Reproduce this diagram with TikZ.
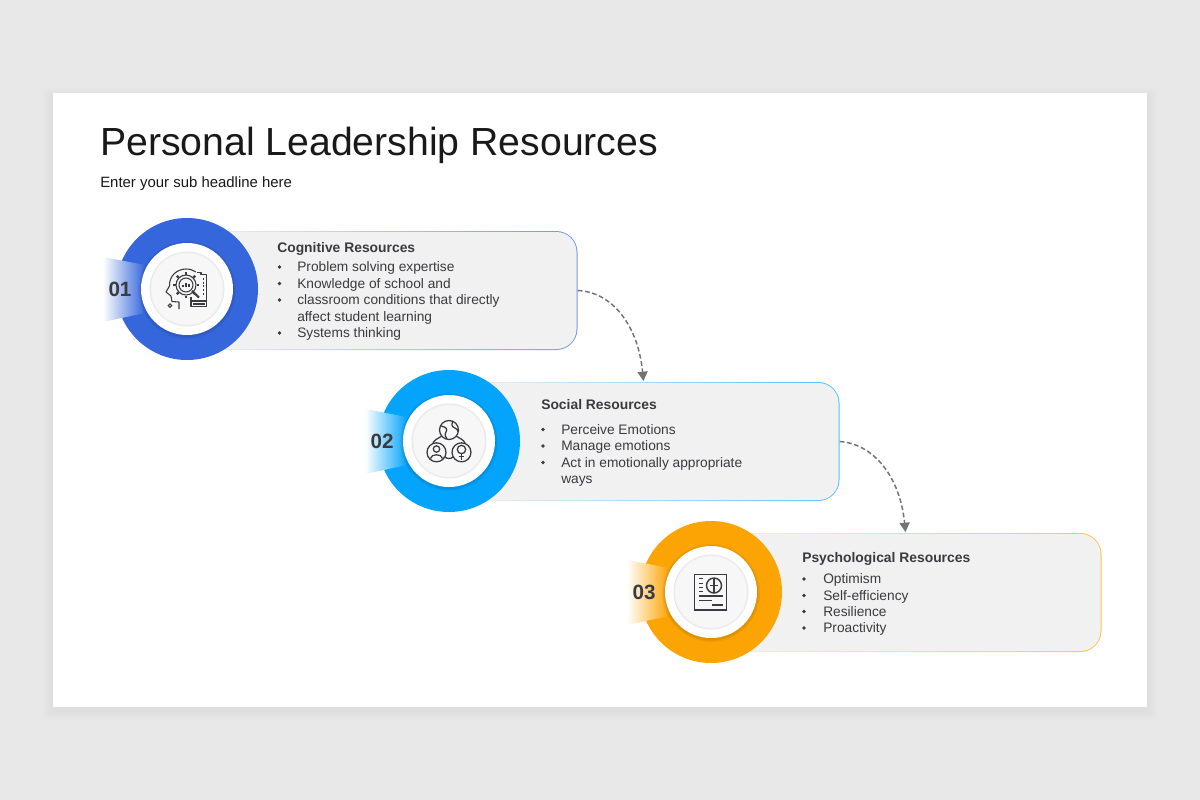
\documentclass[tikz,border=0pt]{standalone}
\usepackage{fontspec}
\setmainfont{Liberation Sans}
\usetikzlibrary{arrows.meta, calc, positioning}
\definecolor{pagegray}{HTML}{E9E8E9}
\definecolor{cardgray}{HTML}{F1F1F1}
\definecolor{inkdark}{HTML}{3A3A40}
\definecolor{blueone}{HTML}{3566DC}
\definecolor{bluetwo}{HTML}{04A4FC}
\definecolor{orangethree}{HTML}{FCA404}
\tikzset{
  headline/.style={anchor=base west, inner sep=0pt, text=black!90, font=\fontsize{29.4}{30}\selectfont},
  subline/.style={anchor=base west, inner sep=0pt, text=black!90, font=\fontsize{11.2}{12}\selectfont},
  cardhead/.style={anchor=base west, inner sep=0pt, text=inkdark, font=\fontsize{10.4}{12}\selectfont\bfseries},
  itemtext/.style={anchor=base west, inner sep=0pt, text=inkdark, font=\fontsize{10.3}{12}\selectfont},
  numtext/.style={inner sep=0pt, text=inkdark, font=\fontsize{15.5}{16}\selectfont\bfseries},
  cardedge/.style={inner sep=0pt, rounded corners=16pt, minimum height=89.25pt, left color=cardgray, middle color=cardgray, right color=#1!70!white},
  cardbody/.style={inner sep=0pt, rounded corners=15pt, minimum height=87.75pt, fill=cardgray},
  flow/.style={draw=black!55, line width=1.1pt, dash pattern=on 3.5pt off 2pt, -{Triangle[length=7pt,width=7.5pt]}},
  icon/.style={draw=inkdark, line width=0.8pt}
}
% ring, number tab and white disc of one step: centre, colour, number
\newcommand{\stepcircle}[3]{
  \fill[#2] (#1) circle (71);
  \shade[left color=white, middle color=#2!35!white, right color=#2] ($(#1)+(-84,-32)$) -- ($(#1)+(-42,-24)$) -- ($(#1)+(-42,24)$) -- ($(#1)+(-84,33)$) -- cycle;
  \foreach \r in {49,48,47} \fill[black, opacity=0.04] ($(#1)+(0,1)$) circle (\r);
  \fill[white] (#1) circle (46);
  \fill[black!9] (#1) circle (37.5);
  \fill[black!5] (#1) circle (36.5);
  \fill[white!97!black] (#1) circle (35.5);
  \node[numtext] (num#3) at ($(#1)+(-67,0)$) {#3};
}
\begin{document}
\begin{tikzpicture}[x=0.75pt, y=-0.75pt]
\useasboundingbox (0,0) rectangle (1200,800);
\fill[pagegray] (0,0) rectangle (1200,800);

% slide with soft edge
\foreach \s in {10,8,6,4,2}
  \fill[black, opacity=0.007] (53-\s,93-\s+5) rectangle (1147+\s,707+\s+3);
\fill[white] (53,93) rectangle (1147,707);

\node[headline] (title) at (100,155) {Personal Leadership Resources};
\node[subline] (subtitle) at (100,187) {Enter your sub headline here};

% cards
\node[cardedge=blueone, minimum width=283.5pt] (cardA) at (388.5,290.5) {};
\node[cardbody, minimum width=282pt] (innerA) at (388.5,290.5) {};
\node[cardedge=bluetwo, minimum width=284.25pt] (cardB) at (650,441.5) {};
\node[cardbody, minimum width=282.75pt] (innerB) at (650,441.5) {};
\node[cardedge=orangethree, minimum width=286.5pt] (cardC) at (910.5,592.5) {};
\node[cardbody, minimum width=285pt] (innerC) at (910.5,592.5) {};

\stepcircle{187,289}{blueone}{01}
\stepcircle{449,441}{bluetwo}{02}
\stepcircle{711,592}{orangethree}{03}

% connectors
\coordinate (entryB) at (643.5,381);
\coordinate (entryC) at (905.5,532);
\draw[flow] (cardA.east) .. controls (612,292) and (638,325) .. (entryB);
\draw[flow] (cardB.east) .. controls (874,444) and (900,477) .. (entryC);

% card texts
\node[cardhead] (headA) at (277,252) {Cognitive Resources};
\node[cardhead] (headB) at (541,409.5) {Social Resources};
\node[cardhead] (headC) at (802,562.5) {Psychological Resources};

\foreach \nm/\xx/\yy/\txt in {
  itemAa/297/271.7/Problem solving expertise,
  itemAb/297/288.3/Knowledge of school and,
  itemAc/297/304.7/classroom conditions that directly,
  itemAd/297/321.2/affect student learning,
  itemAe/297/337.7/Systems thinking,
  itemBa/561/434/Perceive Emotions,
  itemBb/561/450.5/Manage emotions,
  itemBc/561/467/Act in emotionally appropriate,
  itemBd/561/483.5/ways,
  itemCa/823/583.5/Optimism,
  itemCb/823/600/Self-efficiency,
  itemCc/823/616/Resilience,
  itemCd/823/632.5/Proactivity}
  \node[itemtext] (\nm) at (\xx,\yy) {\txt};

\foreach \xx/\yy in {279.5/267,279.5/283.5,279.5/300,279.5/333,
  543/429.5,543/446,543/462.5,
  804/579,804/595.5,804/611.5,804/628}
  \fill[inkdark] (\xx,\yy) circle (1.8);

% icon: head with gear and document
\begin{scope}[shift={(187,289)}]
  \draw[icon, line join=round] (-8,20) -- (-8,13) -- (-15,12.5) -- (-16,7) -- (-21,3) -- (-17.5,-3) .. controls (-18,-14) and (-9,-20) .. (-1,-20) .. controls (3,-20) and (6,-19) .. (9,-17);
  \foreach \a in {0,45,...,315}
    \draw[icon, line width=1.6pt] (-1,-4) ++(\a:10.5) -- ++(\a:2.5);
  \fill[white!97!black] (-1,-4) circle (10);
  \draw[icon] (-1,-4) circle (10);
  \draw[icon] (-1,-4) circle (7);
  \draw[icon, line width=0.8pt] (-4,-2) -- (-4,-4) (-1,-2) -- (-1,-6) (2,-2) -- (2,-5);
  \draw[icon, line width=1.6pt] (5,2) -- (12,8.5);
  \draw[icon, line join=round] (10,-16.5) -- (14,-16.5) -- (14,-14.5) -- (19.5,-14.5) -- (19.5,17.5) -- (4,17.5) -- (4,8);
  \draw[icon] (4,12) -- (19.5,12) (6,15) -- (18,15);
  \draw[icon, dash pattern=on 1.4pt off 1.4pt] (16.5,-11) -- (16.5,7);
  \draw[icon] (-17,14.8) -- (-15.2,16.6) -- (-17,18.4) -- (-18.8,16.6) -- cycle;
\end{scope}

% icon: three linked circles
\begin{scope}[shift={(449,441)}, icon/.append style={line width=0.95pt}]
  \draw[icon] (0,-11) circle (9.5);
  \draw[icon] (-12.5,11.3) circle (9.5);
  \draw[icon] (12.5,11.3) circle (9.5);
  \draw[icon] (-7,-5) .. controls (-12,-2) and (-15,-1) .. (-16,2.3);
  \draw[icon] (7,-5) .. controls (12,-2) and (15,-1) .. (16,2.3);
  \draw[icon] (-4,16) .. controls (-2,18) and (2,18) .. (4,16);
  % globe
  \draw[icon] (-8,-15) .. controls (-3,-14) and (-1,-12) .. (-3,-9) .. controls (-5,-6) and (-3,-4) .. (-2,-2);
  \draw[icon] (4,-20) .. controls (2,-16) and (3,-14) .. (6,-13) .. controls (8,-12) and (9,-11) .. (9,-9);
  % person
  \draw[icon] (-12.5,8) circle (3.2);
  \draw[icon] (-18.5,17.5) .. controls (-18,12.5) and (-7,12.5) .. (-6.5,17.5);
  % tree
  \draw[icon] (12.5,8.5) circle (4.2);
  \draw[icon] (12.5,12.7) -- (12.5,19);
  \draw[icon] (10,15.5) -- (15,15.5);
\end{scope}

% icon: report with brain circle
\begin{scope}[shift={(711,592)}, icon/.append style={line width=1.1pt}]
  \draw[icon] (-16.3,-17.7) rectangle (15.7,18);
  \draw[icon] (3,-6.5) circle (7.5);
  \draw[icon] (3,-14) -- (3,1);
  \draw[icon] (-1,-6.5) -- (7,-6.5);
  \foreach \yy in {-13.7,-8.7,-4.3,-0.3}
    \draw[icon] (-12.3,\yy) -- (-7.7,\yy);
  \draw[icon] (-11.7,4) -- (11.7,4);
  \draw[icon] (-11.7,8.7) -- (0.7,8.7);
  \draw[icon] (0.7,13) -- (11.7,13);
\end{scope}

\end{tikzpicture}
\end{document}
